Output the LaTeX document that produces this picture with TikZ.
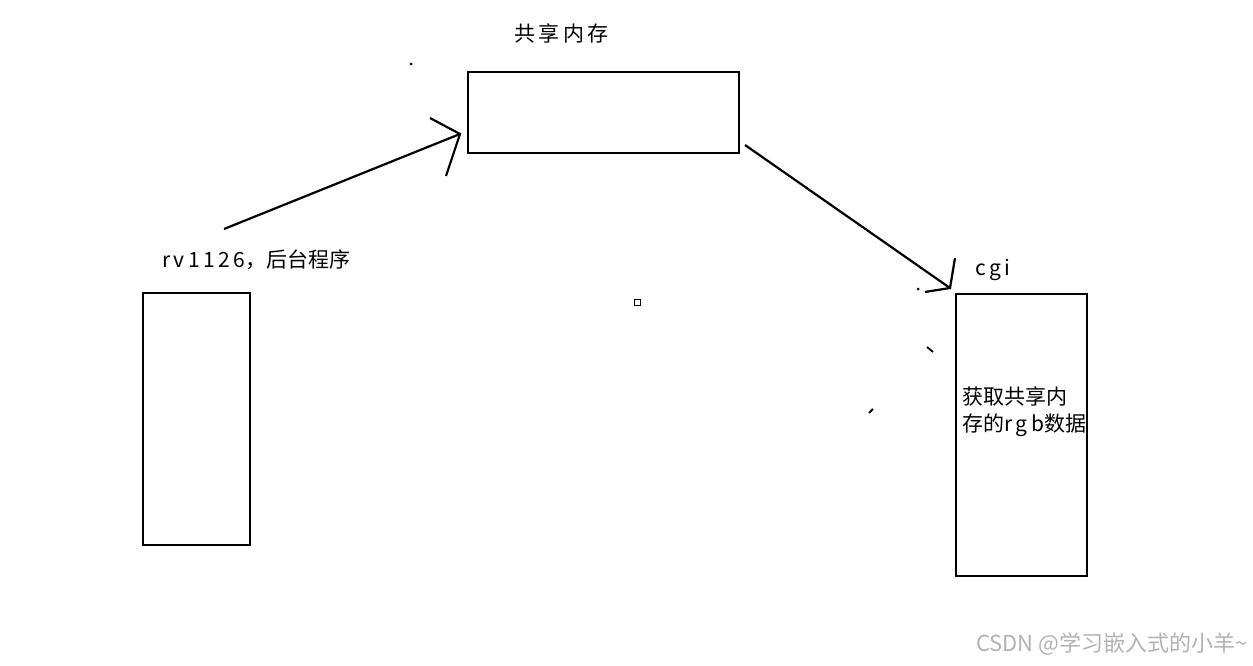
\documentclass[tikz,border=0pt]{standalone}
\usepackage{fontspec}
\setmainfont{Noto Sans CJK SC}
\begin{document}
\begin{tikzpicture}[x=1pt,y=-1pt,
  box/.style={draw,line width=2.5pt},
  ln/.style={line width=2.2pt},
  lbl/.style={inner sep=0pt,anchor=west,font=\fontsize{21}{24}\selectfont}]
\useasboundingbox (0,0) rectangle (1253,666);
\draw[box] (143,293) rectangle (250,545);
\draw[box] (468,72) rectangle (739,153);
\draw[box] (956,294) rectangle (1087,576);
\node[lbl] (t1) at (514,33) {共\,享\,内\,存};
\node[lbl] (t2) at (162,260) {r\,v\,1\,1\,2\,6，后台程序};
\node[lbl] (t3) at (975,270) {c\,g\,i};
\node[lbl] (t4) at (962,396) {获取共享内};
\node[lbl] (t5) at (962,425) {存的r\,g\,b数据};
\node[inner sep=0pt,anchor=east,text=black!30,font=\fontsize{22}{24}\selectfont] (wm) at (1248,644) {CSDN @学习嵌入式的小羊\textasciitilde};
\coordinate (a1s) at (224,229); \coordinate (a1e) at (460,134);
\draw[ln] (a1s) -- (a1e);
\draw[ln] (430,118) -- (a1e) -- (446,176);
\coordinate (a2s) at (745,145); \coordinate (a2e) at (950,288);
\draw[ln] (a2s) -- (a2e);
\draw[ln] (955,258) -- (950,288) -- (925,292);
\fill (411,64) circle (1.5);
\fill (918,289) circle (1.5);
\draw[line width=1.2pt] (634.5,299.5) rectangle (640.5,305.5);
\draw[line width=1.8pt] (927,347) -- (933,352);
\draw[line width=1.8pt] (869,413) -- (873,409);
\end{tikzpicture}
\end{document}
